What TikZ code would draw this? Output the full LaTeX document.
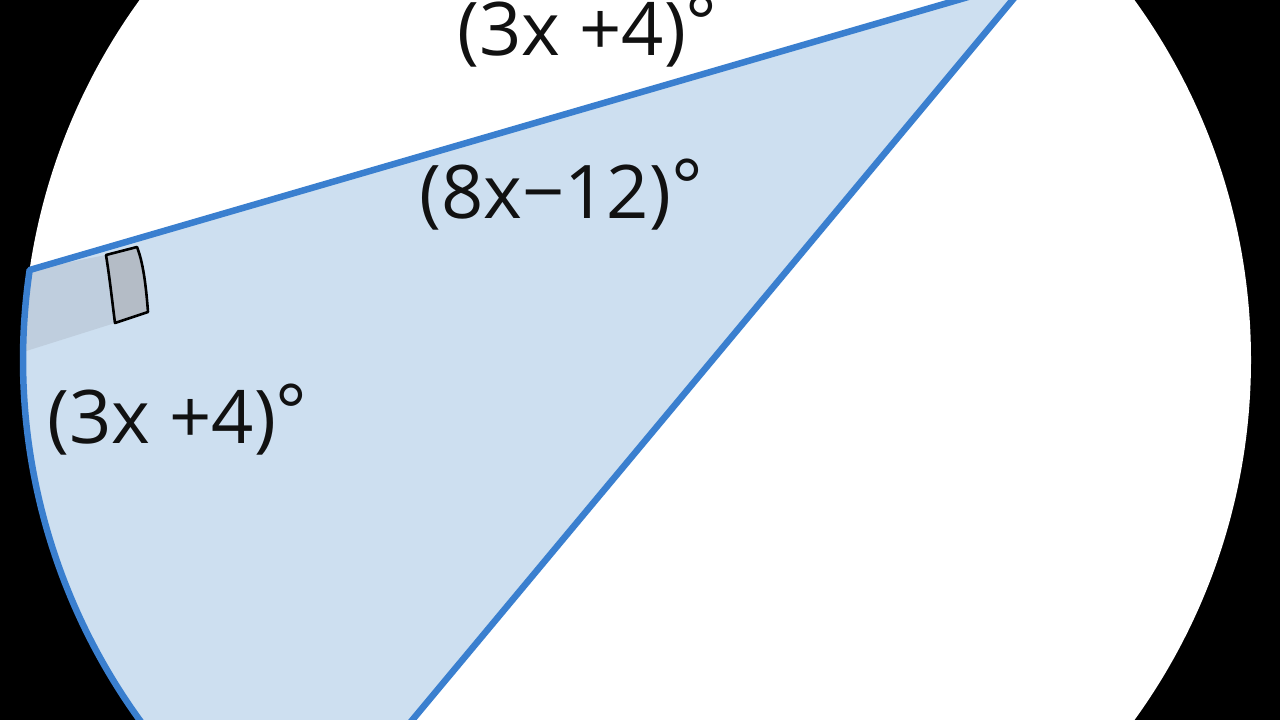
\documentclass[tikz,border=0pt]{standalone}
\usepackage{fontspec}
\setmainfont{Open Sans}
\usetikzlibrary{calc}
\definecolor{regionfill}{HTML}{CDDFF0}
\definecolor{bandfill}{HTML}{BFCEDE}
\definecolor{lineblue}{HTML}{3A7FCF}
\definecolor{markfill}{HTML}{B4BCC6}
\definecolor{txt}{HTML}{111111}
\newcommand{\degr}{\raisebox{6pt}{°}}
\begin{document}
\begin{tikzpicture}[x=1pt,y=-1pt,
  outline/.style={draw=lineblue, line width=6.5pt, line join=round},
  anglelabel/.style={inner sep=0pt, anchor=base west, text=txt, font=\fontsize{74}{80}\selectfont}]
\useasboundingbox (0,0) rectangle (1280,720);
\clip (0,0) rectangle (1280,720);
\fill[black] (0,0) rectangle (1280,720);
\coordinate (O) at (637,360);
\fill[white] (O) circle[radius=614];
\coordinate (A) at ($(O)+(188.43:614)$);
\coordinate (B) at (1030,-21);
% shaded region
\fill[regionfill] (B) -- (A) arc[start angle=188.43, end angle=124.4, radius=614] -- cycle;
% darker band near the right angle
\fill[bandfill] (A) -- (106,255) -- (115,323) -- (23,352) -- cycle;
% right-angle marker
\filldraw[fill=markfill, draw=black, line width=2.6pt, line join=round]
  (106,255) .. controls (110,280) and (112,300) .. (115,323)
  -- (148,312) .. controls (146,285) and (143,262) .. (137,247) -- cycle;
% outline
\draw[outline] (B) -- (A) arc[start angle=188.43, end angle=124.4, radius=614] -- cycle;
% labels
\node[anglelabel] (ltop) at (457,55) {(3x +4)\degr};
\node[anglelabel] (lmid) at (419,218) {(8x−12)\degr};
\node[anglelabel] (lleft) at (47,443) {(3x +4)\degr};
\end{tikzpicture}
\end{document}
